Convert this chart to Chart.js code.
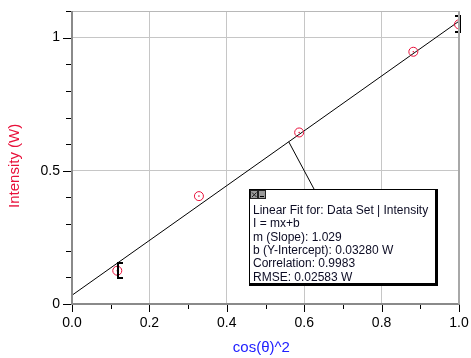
<!DOCTYPE html>
<html><head><meta charset="utf-8">
<script src="https://cdn.jsdelivr.net/npm/chart.js@4.4.0/dist/chart.umd.min.js"></script>
<style>html,body{margin:0;padding:0;background:#fff}canvas{display:block}</style>
</head><body>
<canvas id="c" width="471" height="358"></canvas>
<script>
// ---- data ----
const cosSq = [0.117, 0.328, 0.587, 0.882, 1.0];
const intensity = [0.125, 0.405, 0.644, 0.947, 1.050];
const intensityErr = [0.033, 0, 0, 0, 0.034];
const fitX = [0, 1];
const fitY = [0.0328, 1.0618];
const fitSlope = 1.029;
const fitIntercept = 0.03280;
const xTickLabels = ['0.0', '0.2', '0.4', '0.6', '0.8', '1.0'];
const yTickLabels = ['0', '0.5', '1'];
const fitText = [
  'Linear Fit for: Data Set | Intensity',
  'I = mx+b',
  'm (Slope): 1.029',
  'b (Y-Intercept): 0.03280 W',
  'Correlation: 0.9983',
  'RMSE: 0.02583 W'
];

const FONT = "'Liberation Sans', Arial, sans-serif";
const RED = '#e8103a';

const points = cosSq.map((v, i) => ({x: v, y: intensity[i]}));
const fitPts = fitX.map((v, i) => ({x: v, y: fitY[i]}));

const frameAndTicks = {
  id: 'frameAndTicks',
  afterDatasetsDraw(chart) {
    const {ctx, chartArea: a, scales: {x, y}} = chart;
    ctx.save();
    // error bars
    ctx.fillStyle = '#000';
    intensityErr.forEach((e, i) => {
      if (!e) return;
      const px = Math.round(x.getPixelForValue(cosSq[i]));
      const t = Math.round(y.getPixelForValue(intensity[i] + e));
      const b = Math.round(y.getPixelForValue(intensity[i] - e));
      const side = cosSq[i] < 0.5 ? 1 : -1;
      ctx.fillRect(px, t, 2, b - t);
      if (side > 0) {
        ctx.fillRect(px, t, 6, 2);
        ctx.fillRect(px, b - 2, 6, 2);
      } else {
        ctx.fillRect(px - 4, t, 6, 2);
        ctx.fillRect(px - 4, b - 2, 6, 2);
      }
    });
    // frame
    ctx.fillStyle = '#b8b8b8';
    ctx.fillRect(a.left, a.top, a.right - a.left, 1);
    ctx.fillStyle = '#8a8a8a';
    ctx.fillRect(a.left - 1, a.top, 2, a.bottom - a.top + 1);
    ctx.fillRect(a.left - 1, a.bottom - 1, a.right - a.left + 2, 2);
    ctx.fillStyle = '#a8a8a8';
    ctx.fillRect(a.right - 1, a.top, 2, a.bottom - a.top);
    // tick marks
    ctx.strokeStyle = '#000';
    ctx.lineWidth = 1;
    for (let i = 0; i <= 11; i++) {
      const py = Math.round(y.getPixelForValue(i / 10)) + 0.5;
      const len = i % 5 === 0 ? 8 : 5;
      ctx.beginPath(); ctx.moveTo(a.left - 1, py); ctx.lineTo(a.left - 1 - len, py); ctx.stroke();
    }
    for (let i = 0; i <= 10; i++) {
      const px = Math.round(x.getPixelForValue(i / 10)) + 0.5;
      const len = i % 2 === 0 ? 7 : 4;
      ctx.beginPath(); ctx.moveTo(px, a.bottom + 1); ctx.lineTo(px, a.bottom + 1 + len); ctx.stroke();
    }
    ctx.restore();
  }
};

const fitBox = {
  id: 'fitBox',
  afterDraw(chart) {
    const {ctx, scales: {x, y}} = chart;
    const anchorX = 0.56;
    const ax = x.getPixelForValue(anchorX);
    const ay = y.getPixelForValue(fitSlope * anchorX + fitIntercept);
    const L = 249, T = 189, R = 436, B = 284;
    ctx.save();
    ctx.strokeStyle = '#000';
    ctx.lineWidth = 1;
    ctx.beginPath(); ctx.moveTo(ax, ay); ctx.lineTo(314, T); ctx.stroke();
    ctx.fillStyle = '#000';
    ctx.fillRect(L, T, R - L + 2, B - T + 2);
    ctx.fillStyle = '#fff';
    ctx.fillRect(L + 1, T + 1, R - L - 2, B - T - 2);
    // small buttons
    ctx.fillStyle = '#9a9a9a';
    ctx.fillRect(L + 1, T + 1, 8, 9);
    ctx.fillRect(L + 10, T + 1, 7, 9);
    ctx.strokeStyle = '#222';
    ctx.strokeRect(L + 1.5, T + 1.5, 7, 8);
    ctx.strokeRect(L + 9.5, T + 1.5, 7, 8);
    ctx.beginPath();
    ctx.moveTo(L + 3, T + 3.5); ctx.lineTo(L + 7.5, T + 8);
    ctx.moveTo(L + 7.5, T + 3.5); ctx.lineTo(L + 3, T + 8);
    ctx.stroke();
    ctx.fillStyle = '#000';
    ctx.fillRect(L + 11, T + 7, 4, 1);
    // text
    ctx.font = '12px ' + FONT;
    ctx.textBaseline = 'alphabetic';
    ctx.textAlign = 'left';
    ctx.fillStyle = '#0c0c24';
    fitText.forEach((s, i) => ctx.fillText(s, L + 4, T + 25 + i * 13.3));
    ctx.restore();
  }
};

new Chart(document.getElementById('c'), {
  type: 'scatter',
  data: {
    datasets: [
      {
        label: 'Intensity',
        data: points,
        pointStyle: 'circle',
        pointRadius: 4.5,
        pointBorderWidth: 1,
        pointBorderColor: RED,
        pointBackgroundColor: 'rgba(0,0,0,0)',
        showLine: false,
        clip: 0
      },
      {
        label: 'Intensity centers',
        data: points,
        pointRadius: 0.8,
        pointBorderWidth: 0,
        pointBackgroundColor: RED,
        showLine: false,
        clip: 0
      },
      {
        type: 'line',
        label: 'Linear Fit',
        data: fitPts,
        borderColor: '#000',
        borderWidth: 1,
        pointRadius: 0,
        fill: false,
        tension: 0
      }
    ]
  },
  options: {
    responsive: false,
    animation: false,
    devicePixelRatio: 1,
    layout: {padding: {left: 0, top: 11, right: 12, bottom: 0}},
    plugins: {legend: {display: false}, tooltip: {enabled: false}},
    scales: {
      x: {
        type: 'linear', min: 0, max: 1,
        afterFit(s) { s.height = 54; s.paddingLeft = 0; s.paddingRight = 0; },
        border: {display: false},
        grid: {
          drawTicks: false,
          color: c => (c.tick && c.tick.value > 0.01 && c.tick.value < 0.99) ? '#c6c6c6' : 'rgba(0,0,0,0)',
          lineWidth: 1
        },
        ticks: {
          stepSize: 0.2, autoSkip: false, maxRotation: 0, padding: 11,
          color: '#000', font: {family: FONT, size: 14},
          callback: (v, i) => xTickLabels[i]
        },
        title: {
          display: true, text: 'cos(θ)^2  ', color: '#2020ff',
          font: {family: FONT, size: 15}, padding: {top: 0, bottom: 1}
        }
      },
      y: {
        type: 'linear', min: 0, max: 1.1,
        afterFit(s) { s.width = 72; s.paddingTop = 0; s.paddingBottom = 0; },
        border: {display: false},
        grid: {
          drawTicks: false,
          color: c => (c.tick && c.tick.value > 0.01) ? '#c6c6c6' : 'rgba(0,0,0,0)',
          lineWidth: 1
        },
        ticks: {
          stepSize: 0.5, includeBounds: false, padding: 12,
          color: '#000', font: {family: FONT, size: 14},
          callback: (v, i) => yTickLabels[i]
        },
        title: {
          display: true, text: 'Intensity (W)    ', color: RED,
          font: {family: FONT, size: 15}, padding: {top: 6, bottom: 0}
        }
      }
    }
  },
  plugins: [frameAndTicks, fitBox]
});
</script>
</body></html>
